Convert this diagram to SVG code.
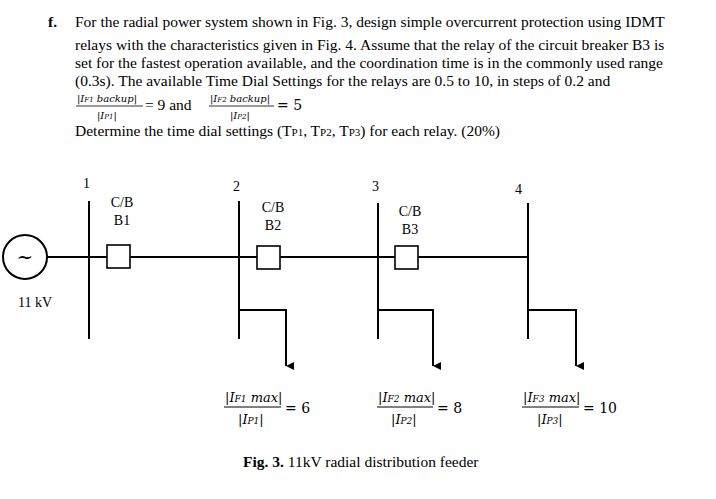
<svg xmlns="http://www.w3.org/2000/svg" width="716" height="499" viewBox="0 0 716 499">
<style>
.t{font-family:"Liberation Serif",serif;font-size:15.5px;fill:#000}
.d{font-family:"Liberation Serif",serif;font-size:14px;fill:#000}
.m{font-family:"DejaVu Serif","Liberation Serif",serif;font-style:italic;fill:#000}
.n{font-family:"DejaVu Serif","Liberation Serif",serif;fill:#000}
.l{stroke:#000;stroke-width:2;fill:none}
.b{stroke:#000;stroke-width:1.6;fill:#fff}
</style>
<defs><marker id="a" viewBox="0 0 10 10" refX="5" refY="10" markerWidth="8" markerHeight="8" orient="auto-start-reverse" markerUnits="userSpaceOnUse"><path d="M0 0L10 0L5 10z" fill="#000"/></marker></defs>
<text class="t" x="48" y="27" font-weight="bold">f.</text>
<text class="t" x="75" y="27">For the radial power system shown in Fig. 3, design simple overcurrent protection using IDMT</text>
<text class="t" x="75" y="50">relays with the characteristics given in Fig. 4. Assume that the relay of the circuit breaker B3 is</text>
<text class="t" x="75" y="68">set for the fastest operation available, and the coordination time is in the commonly used range</text>
<text class="t" x="75" y="86">(0.3s). The available Time Dial Settings for the relays are 0.5 to 10, in steps of 0.2 and</text>
<g id="frac1">
<text class="m" x="77" y="102" font-size="10">|I<tspan font-size="7">F1</tspan> backup|</text>
<line x1="76" y1="106" x2="143" y2="106" stroke="#000" stroke-width="0.8"/>
<text class="m" x="97" y="119" font-size="10">|I<tspan font-size="7">P1</tspan>|</text>
<text class="t" x="145" y="110">= 9 and</text>
<text class="m" x="210" y="102" font-size="10">|I<tspan font-size="7">F2</tspan> backup|</text>
<line x1="209" y1="106" x2="274" y2="106" stroke="#000" stroke-width="0.8"/>
<text class="m" x="230" y="119" font-size="10">|I<tspan font-size="7">P2</tspan>|</text>
<text class="n" x="277" y="110" font-size="14">= 5</text>
</g>
<text class="t" x="75" y="136">Determine the time dial settings (T<tspan font-size="11">P1</tspan>, T<tspan font-size="11">P2</tspan>, T<tspan font-size="11">P3</tspan>) for each relay. (20%)</text>
<g id="connectors">
<line class="l" x1="47" y1="257" x2="528" y2="257"/>
<polyline class="l" points="239,310 286,310 286,366" marker-end="url(#a)"/>
<polyline class="l" points="378,310 433,310 433,366" marker-end="url(#a)"/>
<polyline class="l" points="528,310 576,310 576,366" marker-end="url(#a)"/>
</g>
<g id="gen"><circle cx="25" cy="257" r="22" fill="#fff" stroke="#000" stroke-width="2"/><text class="n" x="25" y="264" font-size="20" text-anchor="middle">~</text><text class="d" x="18" y="307">11 kV</text></g>
<g id="bus1"><line class="l" x1="89" y1="201" x2="89" y2="339"/><text class="d" x="83" y="188">1</text></g>
<g id="bus2"><line class="l" x1="239" y1="201" x2="239" y2="339"/><text class="d" x="233" y="191">2</text></g>
<g id="bus3"><line class="l" x1="378" y1="203" x2="378" y2="339"/><text class="d" x="372" y="191">3</text></g>
<g id="bus4"><line class="l" x1="528" y1="203" x2="528" y2="339"/><text class="d" x="515" y="194">4</text></g>
<g id="B1"><rect class="b" x="107" y="245" width="23" height="23"/><text class="d" x="122" y="207" text-anchor="middle">C/B</text><text class="d" x="122" y="225" text-anchor="middle">B1</text></g>
<g id="B2"><rect class="b" x="257" y="246" width="23" height="23"/><text class="d" x="273" y="212" text-anchor="middle">C/B</text><text class="d" x="273" y="230" text-anchor="middle">B2</text></g>
<g id="B3"><rect class="b" x="395" y="246" width="23" height="23"/><text class="d" x="410" y="216" text-anchor="middle">C/B</text><text class="d" x="410" y="234" text-anchor="middle">B3</text></g>
<g id="f1"><text class="m" x="225" y="402" font-size="13">|I<tspan font-size="9">F1</tspan> max|</text><line x1="224" y1="407" x2="281" y2="407" stroke="#000"/><text class="m" x="238" y="424" font-size="13">|I<tspan font-size="9">P1</tspan>|</text><text class="n" x="285" y="413" font-size="14">= 6</text></g>
<g id="f2"><text class="m" x="378" y="402" font-size="13">|I<tspan font-size="9">F2</tspan> max|</text><line x1="377" y1="407" x2="433" y2="407" stroke="#000"/><text class="m" x="391" y="424" font-size="13">|I<tspan font-size="9">P2</tspan>|</text><text class="n" x="437" y="413" font-size="14">= 8</text></g>
<g id="f3"><text class="m" x="523" y="402" font-size="13">|I<tspan font-size="9">F3</tspan> max|</text><line x1="522" y1="407" x2="579" y2="407" stroke="#000"/><text class="m" x="537" y="424" font-size="13">|I<tspan font-size="9">P3</tspan>|</text><text class="n" x="583" y="413" font-size="14">= 10</text></g>
<text class="t" x="243" y="467" font-size="14"><tspan font-weight="bold">Fig. 3.</tspan> 11kV radial distribution feeder</text>
</svg>
